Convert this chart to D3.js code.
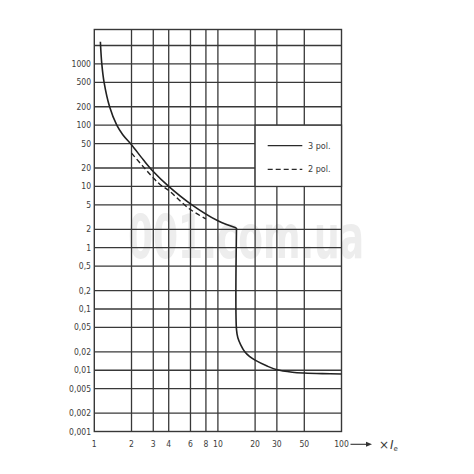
<!DOCTYPE html>
<html>
<head>
<meta charset="utf-8">
<script src="https://cdn.jsdelivr.net/npm/d3@7"></script>
<style>
  html, body { margin: 0; padding: 0; background: #fff; }
  svg text { font-family: 'Liberation Sans Narrow', 'DejaVu Sans Condensed', sans-serif; fill: #3c3c3c; }
</style>
</head>
<body>
<svg id="chart" width="474" height="474"></svg>
<script>
// grid / tick values
const xTicks = [1, 2, 3, 4, 6, 8, 10, 20, 30, 50, 100];
const xLabels = ['1', '2', '3', '4', '6', '8', '10', '20', '30', '50', '100'];
const yGrid = [2000, 1000, 500, 200, 100, 50, 20, 10, 5, 2, 1, 0.5, 0.2, 0.1, 0.05, 0.02, 0.01, 0.005, 0.002, 0.001];
const yLabels = ['1000', '500', '200', '100', '50', '20', '10', '5', '2', '1', '0,5', '0,2', '0,1', '0,05', '0,02', '0,01', '0,005', '0,002', '0,001'];

// 3 pol. curve (x in multiples of Ie, t in s)
const pol3Upper = [
  [1.12, 2300], [1.15, 1000], [1.2, 500], [1.33, 200], [1.52, 100], [1.7, 70],
  [2, 48], [2.5, 27], [3, 17.5], [4, 10], [6, 5.2], [10, 2.75], [14.14, 2.1]
];
const pol3Lower = [
  [14.14, 2.1], [14.14, 0.046], [14.5, 0.034], [15.3, 0.026], [16.5, 0.020], [18, 0.0168],
  [20, 0.0146], [25, 0.0117], [30, 0.0102], [40, 0.0093], [50, 0.0090], [70, 0.0088], [100, 0.0087]
];
// 2 pol. curve
const pol2 = [
  [2, 35], [3, 13.8], [3.4, 10.8], [4, 8.6], [5.8, 4.4], [8, 2.95]
];

const svg = d3.select('#chart');
const plotLeft = 94.3, plotRight = 341.5, plotTop = 29.5, plotBottom = 431.5;

const x = d3.scaleLog().domain([1, 100]).range([plotLeft, plotRight]);
const y = d3.scaleLog().domain([0.001, 3650]).range([plotBottom, plotTop]);

const ink = '#383838';

// watermark
svg.append('text')
  .attr('x', 128).attr('y', 258)
  .attr('textLength', 236).attr('lengthAdjust', 'spacingAndGlyphs')
  .style('font-family', "'DejaVu Sans Condensed', sans-serif")
  .style('font-weight', 'bold')
  .style('font-size', '60px')
  .style('fill', '#ededed')
  .text('001.com.ua');

const grid = svg.append('g');

grid.selectAll('line.v')
  .data(xTicks.filter((d) => d > 1 && d < 100))
  .enter().append('line')
  .attr('x1', (d) => x(d)).attr('x2', (d) => x(d))
  .attr('y1', plotTop).attr('y2', plotBottom)
  .attr('stroke', ink).attr('stroke-width', 1.3);

grid.selectAll('line.h')
  .data(yGrid.filter((d) => d > 0.001))
  .enter().append('line')
  .attr('x1', plotLeft).attr('x2', plotRight)
  .attr('y1', (d) => y(d)).attr('y2', (d) => y(d))
  .attr('stroke', ink).attr('stroke-width', 1.3);

// frame
svg.append('rect')
  .attr('x', plotLeft).attr('y', plotTop)
  .attr('width', plotRight - plotLeft).attr('height', plotBottom - plotTop)
  .attr('fill', 'none').attr('stroke', ink).attr('stroke-width', 1.4);

// legend box covers the grid between 20..100 and 10..100
svg.append('rect')
  .attr('x', x(20)).attr('y', y(100))
  .attr('width', x(100) - x(20)).attr('height', y(10) - y(100))
  .attr('fill', '#fff').attr('stroke', ink).attr('stroke-width', 1.3);

const legendX1 = 267.7, legendX2 = 302.3;
const legendRows = [
  { label: '3 pol.', dash: null, yPos: 145.7 },
  { label: '2 pol.', dash: '5,3', yPos: 169.3 }
];
legendRows.forEach((row) => {
  svg.append('line')
    .attr('x1', legendX1).attr('x2', legendX2)
    .attr('y1', row.yPos).attr('y2', row.yPos)
    .attr('stroke', '#2a2a2a').attr('stroke-width', 1.3)
    .attr('stroke-dasharray', row.dash);
  svg.append('text')
    .attr('x', 308).attr('y', row.yPos + 3)
    .style('font-size', '9px')
    .text(row.label);
});

// curves
const line = d3.line()
  .x((d) => x(d[0]))
  .y((d) => y(d[1]))
  .curve(d3.curveCatmullRom.alpha(0.5));

[pol3Upper, pol3Lower].forEach((pts) => {
  svg.append('path')
    .attr('d', line(pts))
    .attr('fill', 'none').attr('stroke', '#222').attr('stroke-width', 1.6);
});

svg.append('path')
  .attr('d', line(pol2))
  .attr('fill', 'none').attr('stroke', '#222').attr('stroke-width', 1.4)
  .attr('stroke-dasharray', '5,3');

// y labels
svg.selectAll('text.ylab')
  .data(yLabels)
  .enter().append('text')
  .attr('x', 91)
  .attr('y', (d) => y(+d.replace(',', '.')) + 3)
  .attr('text-anchor', 'end')
  .style('font-size', '8.5px')
  .text((d) => d);

// x labels
svg.selectAll('text.xlab')
  .data(xTicks)
  .enter().append('text')
  .attr('x', (d) => x(d))
  .attr('y', 447)
  .attr('text-anchor', 'middle')
  .style('font-size', '8.5px')
  .text((d, i) => xLabels[i]);

// axis arrow and unit
svg.append('line')
  .attr('x1', 350.5).attr('x2', 367)
  .attr('y1', 444.3).attr('y2', 444.3)
  .attr('stroke', '#333').attr('stroke-width', 1.1);
svg.append('path')
  .attr('d', 'M366,441.8 L372,444.3 L366,446.8 Z')
  .attr('fill', '#333');

const unit = svg.append('text')
  .attr('x', 379).attr('y', 449)
  .style('font-family', "'DejaVu Sans', sans-serif")
  .style('font-size', '12px');
unit.append('tspan').text('×');
unit.append('tspan').style('font-style', 'italic').attr('dx', 1).text('I');
unit.append('tspan').attr('dy', 2).style('font-size', '7px').text('e');
</script>
</body>
</html>
